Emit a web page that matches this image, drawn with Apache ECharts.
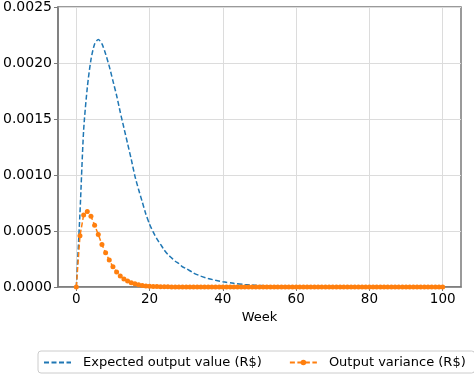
<!DOCTYPE html>
<html>
<head>
<meta charset="utf-8">
<script src="https://cdn.jsdelivr.net/npm/echarts@6/dist/echarts.min.js"></script>
<style>
  html, body { margin: 0; padding: 0; background: #fff; }
  #chart { width: 474px; height: 375px; }
</style>
</head>
<body>
<div id="chart"></div>
<script>
// weeks where the expected value curve was read
var blueWeeks = [0, 1, 2, 3, 4, 5, 6, 7, 8, 9, 10, 11, 12, 13, 14, 15, 16, 17, 18, 19,
  20, 21, 22, 23, 24, 25, 26, 27, 28, 29, 30, 32, 34, 36, 38, 40, 43, 46, 50, 55,
  60, 70, 80, 90, 100];
var blueValues = [0, 0.00066, 0.0014, 0.00178, 0.00203, 0.00217, 0.00221, 0.00217, 0.00208, 0.00197,
  0.00184, 0.00171, 0.00156, 0.00142, 0.00128, 0.00114, 0.00099, 0.00087, 0.00076, 0.00065,
  0.00056, 0.00049, 0.00043, 0.00038, 0.00033, 0.00029, 0.00026, 0.00023, 0.00021, 0.00018,
  0.000165, 0.000125, 0.000097, 0.000076, 0.00006, 0.000047, 0.000033, 0.000023, 0.000013, 0.000006,
  0.000003, 0.0000005, 0, 0, 0];

// output variance, one value per week 0..100
var orangeValues = [0, 0.000458, 0.000643, 0.000675, 0.000632, 0.000552, 0.000468, 0.000379, 0.000305, 0.00024,
  0.00018, 0.000133, 0.000098, 0.000071, 0.000053, 0.000038, 0.000029, 0.00002, 0.000014, 0.00001,
  0.000007, 0.000005, 0.0000035, 0.0000025, 0.0000017, 0.0000012, 0.0000008, 0.0000005, 0.0000003, 0.0000002,
  0.0000001, 0, 0, 0, 0, 0, 0, 0, 0, 0,
  0, 0, 0, 0, 0, 0, 0, 0, 0, 0,
  0, 0, 0, 0, 0, 0, 0, 0, 0, 0,
  0, 0, 0, 0, 0, 0, 0, 0, 0, 0,
  0, 0, 0, 0, 0, 0, 0, 0, 0, 0,
  0, 0, 0, 0, 0, 0, 0, 0, 0, 0,
  0, 0, 0, 0, 0, 0, 0, 0, 0, 0,
  0];

var xTicks = [0, 20, 40, 60, 80, 100];

var spine = "#7a7a7a";
var font = "DejaVu Sans";

var chart = echarts.init(document.getElementById("chart"));
chart.setOption({
  animation: false,
  textStyle: { fontFamily: font },
  grid: {
    left: 51,
    right: 13,
    top: 5,
    bottom: 88,
    show: true,
    borderColor: spine,
    borderWidth: 1.5,
    backgroundColor: "transparent",
  },
  legend: {
    left: 38,
    top: 351,
    width: 470,
    padding: [5, 9, 4, 5],
    itemWidth: 27,
    itemHeight: 7,
    itemGap: 27,
    borderColor: "#cccccc",
    borderWidth: 1,
    borderRadius: 3,
    backgroundColor: "#fff",
    textStyle: { fontSize: 13, color: "#000", fontFamily: font, padding: [0, 0, 0, 7] },
    data: [
      { name: "Expected output value (R$)", itemStyle: { opacity: 0 } },
      { name: "Output variance (R$)" },
    ],
  },
  xAxis: {
    type: "value",
    min: -5,
    max: 105,
    name: "Week",
    nameLocation: "middle",
    nameGap: 16,
    nameTextStyle: { fontSize: 13, color: "#000", fontFamily: font },
    axisLine: { show: true, onZero: false, lineStyle: { color: spine, width: 1.5 } },
    axisTick: { show: true, length: 4, customValues: xTicks, lineStyle: { color: spine } },
    axisLabel: { customValues: xTicks, fontSize: 13.5, color: "#000", margin: 5, fontFamily: font },
    splitLine: { show: true, lineStyle: { color: "#dcdcdc", width: 1 } },
  },
  yAxis: {
    type: "value",
    min: 0,
    max: 0.0025,
    interval: 0.0005,
    axisLine: { show: true, onZero: false, lineStyle: { color: spine, width: 1.5 } },
    axisTick: { show: true, length: 4, lineStyle: { color: spine } },
    axisLabel: {
      fontSize: 14,
      color: "#000",
      margin: 6,
      fontFamily: font,
      formatter: function (v) { return v.toFixed(4); },
    },
    splitLine: { show: true, lineStyle: { color: "#dcdcdc", width: 1 } },
  },
  series: [
    {
      name: "Expected output value (R$)",
      type: "line",
      data: blueWeeks.map(function (w, i) { return [w, blueValues[i]]; }),
      symbol: "none",
      smooth: 0.25,
      color: "#1f77b4",
      lineStyle: { color: "#1f77b4", width: 1.5, type: [5, 2.5] },
    },
    {
      name: "Output variance (R$)",
      type: "line",
      data: orangeValues.map(function (v, i) { return [i, v]; }),
      symbol: "circle",
      symbolSize: 5,
      showAllSymbol: true,
      color: "#ff7f0e",
      itemStyle: { color: "#ff7f0e" },
      lineStyle: { color: "#ff7f0e", width: 1.5, type: [5, 2.5] },
    },
  ],
});
</script>
</body>
</html>
